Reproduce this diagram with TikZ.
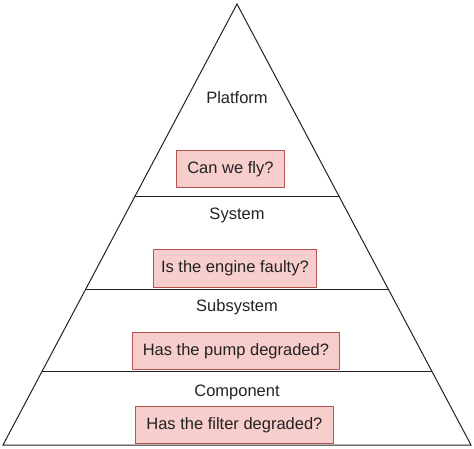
\documentclass[tikz,border=0pt]{standalone}
\usepackage{fontspec}
\setmainfont{Liberation Sans}
\definecolor{boxfill}{HTML}{F8CECC}
\definecolor{boxline}{HTML}{B85450}
\definecolor{ink}{HTML}{222222}
\begin{document}
\begin{tikzpicture}[x=1pt,y=-1pt,
  qbox/.style={draw=boxline,fill=boxfill,line width=0.8pt,inner sep=0pt,anchor=north west,text=ink},
  lbl/.style={font=\fontsize{16.5}{18}\selectfont,text=ink,inner sep=0pt},
  edge/.style={draw=ink,line width=1pt,line join=miter}]
\useasboundingbox (0,0) rectangle (474,448);
% pyramid
\coordinate (apex) at (237,4);
\coordinate (bl) at (3,445);
\coordinate (br) at (471,445);
\draw[edge] (apex) -- (bl) -- (br) -- cycle;
% separators at given heights
\foreach \yy/\nm in {196/s1,289/s2,371/s3}{
  \pgfmathsetmacro{\dx}{(234/441)*(\yy-4)}
  \coordinate (\nm l) at ({237-\dx},\yy);
  \coordinate (\nm r) at ({237+\dx},\yy);
  \draw[edge] (\nm l) -- (\nm r);
}
% labels
\node[lbl] (platform) at (237,98) {Platform};
\node[lbl] (system) at (237,215) {System};
\node[lbl] (subsystem) at (237,307) {Subsystem};
\node[lbl] (component) at (237,392) {Component};
% question boxes
\node[qbox,minimum width=108pt,minimum height=37pt] (q1) at (176,150) {};
\node[lbl] at (q1.center) {Can we fly?};
\node[qbox,minimum width=163pt,minimum height=38pt] (q2) at (153,249) {};
\node[lbl] at (q2.center) {Is the engine faulty?};
\node[qbox,minimum width=207pt,minimum height=37pt] (q3) at (132,332) {};
\node[lbl] at (q3.center) {Has the pump degraded?};
\node[qbox,minimum width=198pt,minimum height=37pt] (q4) at (135,406) {};
\node[lbl] at (q4.center) {Has the filter degraded?};
\end{tikzpicture}
\end{document}
